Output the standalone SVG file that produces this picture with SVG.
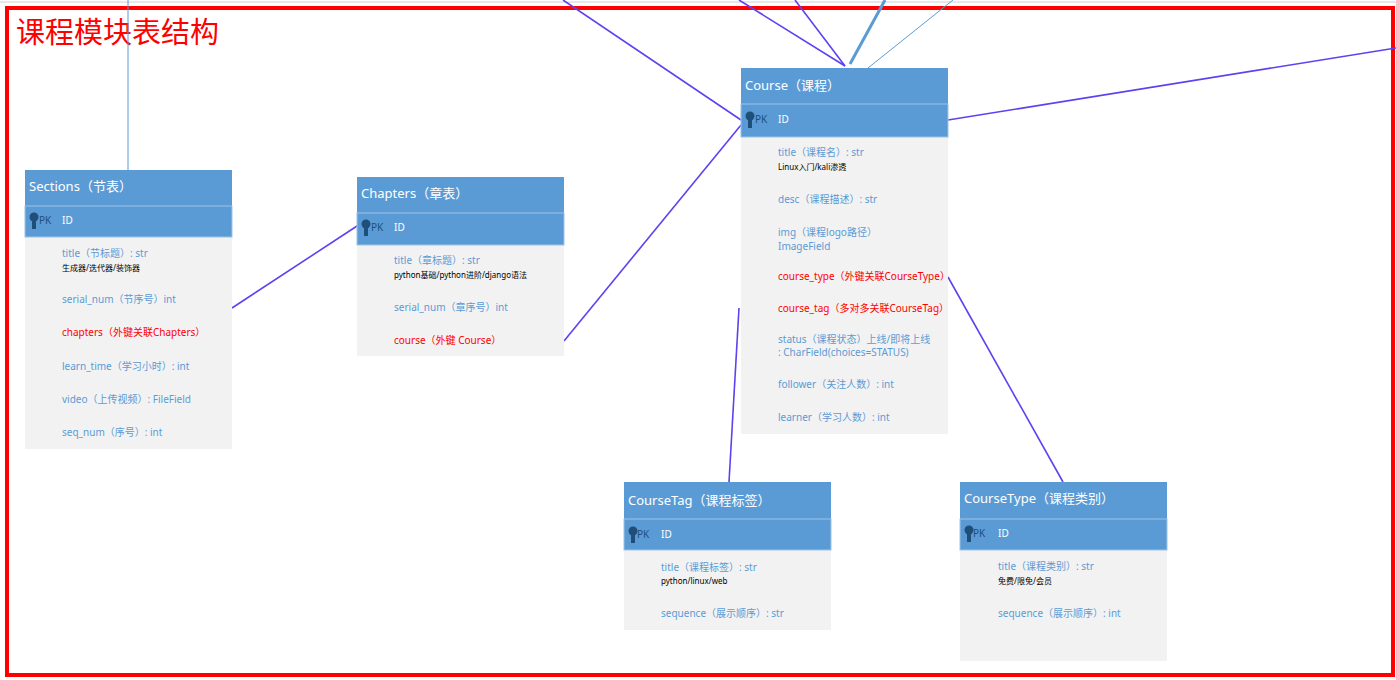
<svg xmlns="http://www.w3.org/2000/svg" width="1396" height="680" viewBox="0 0 1396 680">
<defs>
<style>
text{font-family:"Noto Sans","Noto Sans CJK SC",sans-serif}
.hd{fill:#5b9bd5}
.pk{fill:#5b9bd5;stroke:#9dc3e6;stroke-width:1}
.bd{fill:#f2f2f2}
.ht{fill:#fff;font-size:13px}
.pt{fill:#1f4e79;font-size:10px}
.it{fill:#fff;font-size:10px}
.f{fill:#5b9bd5;font-size:10px}
.r{fill:#ff0000;font-size:10px}
.s{fill:#000;font-size:8px}
.c{stroke:#6040f0;stroke-width:1.6;fill:none}
</style>
<g id="key"><circle cx="0" cy="-3" r="4.5" fill="#1f4e79"/><rect x="-2" y="-2" width="4" height="11" fill="#1f4e79"/></g>
</defs>
<rect width="1396" height="680" fill="#fff"/>
<line x1="0" y1="2" x2="1396" y2="2" stroke="#d0d0d0"/>
<rect x="7" y="8" width="1386" height="667" fill="none" stroke="#ff0000" stroke-width="4"/>
<text x="16" y="43" fill="#ff0000" font-size="29" style="font-family:'Noto Sans CJK SC',sans-serif">课程模块表结构</text>
<g id="connectors">
<line x1="128" y1="0" x2="128" y2="170" stroke="#5b9bd5" stroke-width="1"/>
<line class="c" x1="563" y1="0" x2="741" y2="120"/>
<line class="c" x1="739" y1="0" x2="845" y2="66"/>
<line class="c" x1="795" y1="0" x2="845" y2="66"/>
<line x1="885" y1="0" x2="850" y2="64" stroke="#5b9bd5" stroke-width="3"/>
<line x1="953" y1="0" x2="868" y2="68" stroke="#5b9bd5" stroke-width="1"/>
<line class="c" x1="948" y1="120" x2="1396" y2="48"/>
<line class="c" x1="232" y1="308" x2="357" y2="226"/>
<line class="c" x1="564" y1="341" x2="741" y2="125"/>
<line class="c" x1="739" y1="308" x2="729" y2="482"/>
<line class="c" x1="948" y1="277" x2="1063" y2="482"/>
</g>
<g id="sections">
<rect class="bd" x="25" y="237" width="207" height="212"/>
<rect class="hd" x="25" y="170" width="207" height="36"/>
<rect class="pk" x="25" y="206" width="207" height="31"/>
<text class="ht" x="29" y="191">Sections（节表）</text>
<use href="#key" x="34" y="220"/><text class="pt" x="39" y="224">PK</text><text class="it" x="62" y="224">ID</text>
<text class="f" x="62" y="257">title（节标题）: str</text>
<text class="s" x="62" y="271">生成器/迭代器/装饰器</text>
<text class="f" x="62" y="303">serial_num（节序号）int</text>
<text class="r" x="62" y="336">chapters（外键关联Chapters）</text>
<text class="f" x="62" y="370">learn_time（学习小时）: int</text>
<text class="f" x="62" y="403">video（上传视频）: FileField</text>
<text class="f" x="62" y="436">seq_num（序号）: int</text>
</g>
<g id="chapters">
<rect class="bd" x="357" y="245" width="207" height="111"/>
<rect class="hd" x="357" y="177" width="207" height="36"/>
<rect class="pk" x="357" y="213" width="207" height="32"/>
<text class="ht" x="361" y="198">Chapters（章表）</text>
<use href="#key" x="366" y="227"/><text class="pt" x="371" y="231">PK</text><text class="it" x="394" y="231">ID</text>
<text class="f" x="394" y="264">title（章标题）: str</text>
<text class="s" x="394" y="278">python基础/python进阶/django语法</text>
<text class="f" x="394" y="311">serial_num（章序号）int</text>
<text class="r" x="394" y="344">course（外键 Course）</text>
</g>
<g id="course">
<rect class="bd" x="741" y="137" width="207" height="297"/>
<rect class="hd" x="741" y="68" width="207" height="36"/>
<rect class="pk" x="741" y="104" width="207" height="33"/>
<text class="ht" x="745" y="90">Course（课程）</text>
<use href="#key" x="750" y="119"/><text class="pt" x="755" y="123">PK</text><text class="it" x="778" y="123">ID</text>
<text class="f" x="778" y="156">title（课程名）: str</text>
<text class="s" x="778" y="170">Linux入门/kali渗透</text>
<text class="f" x="778" y="203">desc（课程描述）: str</text>
<text class="f" x="778" y="236">img（课程logo路径）</text>
<text class="f" x="778" y="250">ImageField</text>
<text class="r" x="778" y="280" font-size="8.5">course_type（外键关联CourseType）</text>
<text class="r" x="778" y="312" font-size="9.5">course_tag（多对多关联CourseTag）</text>
<text class="f" x="778" y="343">status（课程状态）上线/即将上线</text>
<text class="f" x="778" y="356" font-size="7.5">: CharField(choices=STATUS)</text>
<text class="f" x="778" y="388">follower（关注人数）: int</text>
<text class="f" x="778" y="421">learner（学习人数）: int</text>
</g>
<g id="coursetag">
<rect class="bd" x="624" y="550" width="207" height="80"/>
<rect class="hd" x="624" y="482" width="207" height="37"/>
<rect class="pk" x="624" y="519" width="207" height="31"/>
<text class="ht" x="628" y="505">CourseTag（课程标签）</text>
<use href="#key" x="633" y="534"/><text class="pt" x="637" y="538">PK</text><text class="it" x="661" y="538">ID</text>
<text class="f" x="661" y="571">title（课程标签）: str</text>
<text class="s" x="661" y="584">python/linux/web</text>
<text class="f" x="661" y="617">sequence（展示顺序）: str</text>
</g>
<g id="coursetype">
<rect class="bd" x="960" y="550" width="207" height="111"/>
<rect class="hd" x="960" y="482" width="207" height="37"/>
<rect class="pk" x="960" y="519" width="207" height="31"/>
<text class="ht" x="964" y="503">CourseType（课程类别）</text>
<use href="#key" x="969" y="533"/><text class="pt" x="973" y="537">PK</text><text class="it" x="998" y="537">ID</text>
<text class="f" x="998" y="570">title（课程类别）: str</text>
<text class="s" x="998" y="584">免费/限免/会员</text>
<text class="f" x="998" y="617">sequence（展示顺序）: int</text>
</g>
</svg>
